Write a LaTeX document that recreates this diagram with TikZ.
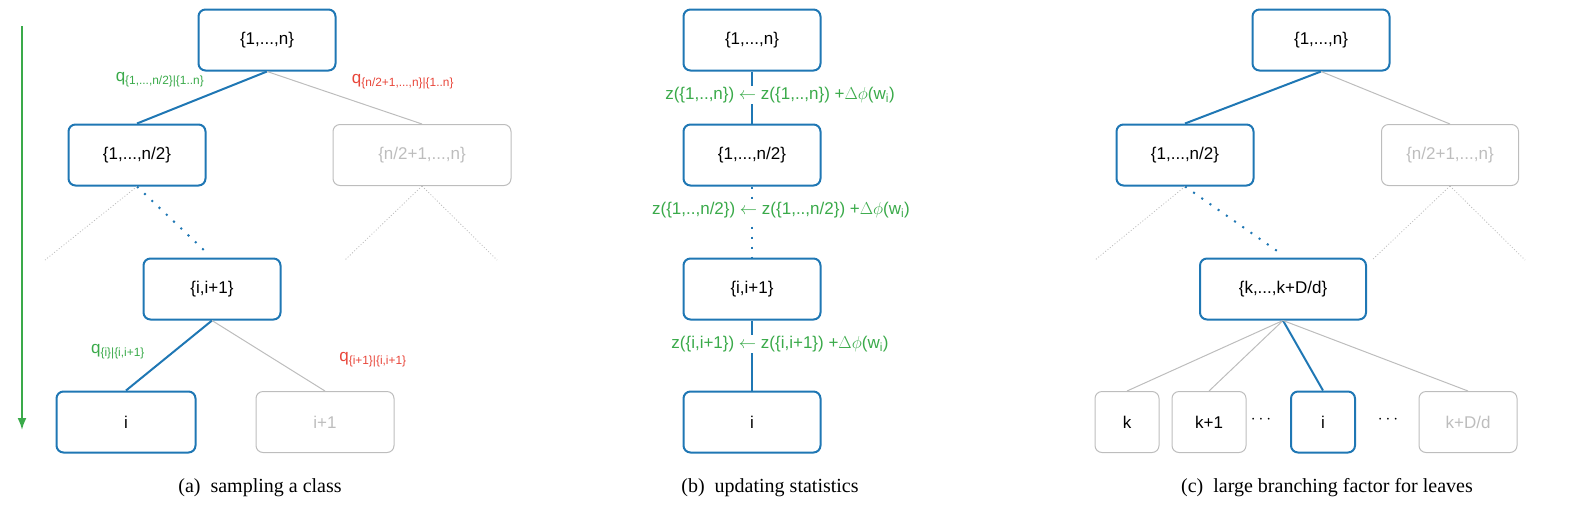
\documentclass[tikz,border=0pt]{standalone}
\usepackage{fontspec}
\usetikzlibrary{arrows.meta}
\setmainfont{Liberation Serif}
\newfontfamily\boxfont{Liberation Sans}
\begin{document}
\definecolor{bl}{HTML}{1F77B4}
\definecolor{gr}{HTML}{3AAA4A}
\definecolor{rd}{HTML}{E8463A}
\definecolor{gy}{HTML}{BDBDBD}
\begin{tikzpicture}[x=1pt,y=-1pt,
 bx/.style={draw=bl,line width=2pt,rounded corners=7pt,minimum width=137pt,minimum height=61pt,font=\boxfont\fontsize{17}{20}\selectfont,inner sep=0pt},
 gbx/.style={draw=gy,line width=1pt,rounded corners=7pt,minimum width=137pt,minimum height=61pt,font=\boxfont\fontsize{17}{20}\selectfont,text=gy,inner sep=0pt},
 be/.style={draw=bl,line width=2pt},
 ge/.style={draw=gy,line width=1pt},
 bdot/.style={draw=bl,line width=2pt,dotted,dash pattern=on 2pt off 8pt},
 gdot/.style={draw=gy,line width=0.8pt,dash pattern=on 1pt off 2pt},
 lab/.style={font=\boxfont\fontsize{17}{20}\selectfont,inner sep=0pt},
 captxt/.style={font=\fontsize{20}{24}\selectfont}]
\useasboundingbox (0,0) rectangle (1589,512);
% (a)
\node[bx] (a0) at (267,40) {\{1,...,n\}};
\node[bx] (a1) at (137,155) {\{1,...,n/2\}};
\node[gbx,minimum width=178pt] (a2) at (422,155) {\{n/2+1,...,n\}};
\node[bx] (a3) at (212,289) {\{i,i+1\}};
\node[bx,minimum width=139pt] (a4) at (126,422) {i};
\node[gbx,minimum width=138pt] (a5) at (325,422) {i+1};
\coordinate (ad1) at (45,260); \coordinate (ad2) at (207,253);
\coordinate (ad3) at (345,260); \coordinate (ad4) at (497,260);
\draw[be] (a0.south) -- (a1.north);
\draw[ge] (a0.south) -- (a2.north);
\draw[bdot] (a1.south) -- (ad2);
\draw[gdot] (a1.south) -- (ad1);
\draw[gdot] (a2.south) -- (ad3);
\draw[gdot] (a2.south) -- (ad4);
\draw[be] (a3.south) -- (a4.north);
\draw[ge] (a3.south) -- (a5.north);
\coordinate (ar1) at (22,26); \coordinate (ar2) at (22,430);
\draw[gr,line width=2pt,-{Latex[length=12pt,width=9pt]}] (ar1) -- (ar2);
\node[lab,text=gr] (l1) at (160,80) {q\textsubscript{\{1,...,n/2\}|\{1..n\}}};
\node[lab,text=rd] (l2) at (403,82) {q\textsubscript{\{n/2+1,...,n\}|\{1..n\}}};
\node[lab,text=gr] (l3) at (118,352) {q\textsubscript{\{i\}|\{i,i+1\}}};
\node[lab,text=rd] (l4) at (373,360) {q\textsubscript{\{i+1\}|\{i,i+1\}}};
% (b)
\node[bx] (b0) at (752,40) {\{1,...,n\}};
\node[bx] (b1) at (752,155) {\{1,...,n/2\}};
\node[bx] (b2) at (752,289) {\{i,i+1\}};
\node[bx] (b3) at (752,422) {i};
\draw[be] (b0) -- (b1);
\draw[bdot] (b1.south) -- (b2.north);
\draw[be] (b2) -- (b3);
\node[lab,text=gr,fill=white,inner sep=1pt] (bl1) at (780,95) {z(\{1,..,n\}) $\leftarrow$ z(\{1,..,n\}) +$\Delta\phi$(w\textsubscript{i})};
\node[lab,text=gr,fill=white,inner sep=1pt] (bl2) at (781,210) {z(\{1,..,n/2\}) $\leftarrow$ z(\{1,..,n/2\}) +$\Delta\phi$(w\textsubscript{i})};
\node[lab,text=gr,fill=white,inner sep=1pt] (bl3) at (780,344) {z(\{i,i+1\}) $\leftarrow$ z(\{i,i+1\}) +$\Delta\phi$(w\textsubscript{i})};
% (c)
\node[bx] (c0) at (1321,40) {\{1,...,n\}};
\node[bx] (c1) at (1185,155) {\{1,...,n/2\}};
\node[gbx] (c2) at (1450,155) {\{n/2+1,...,n\}};
\node[bx,minimum width=166pt] (c3) at (1283,289) {\{k,...,k+D/d\}};
\node[gbx,minimum width=64pt,text=black] (k1) at (1127,422) {k};
\node[gbx,minimum width=74pt,text=black] (k2) at (1209,422) {k+1};
\node[bx,minimum width=64pt] (k3) at (1323,422) {i};
\node[gbx,minimum width=98pt] (k4) at (1468,422) {k+D/d};
\node[lab] (dd1) at (1261,420) {$\cdots$};
\node[lab] (dd2) at (1388,420) {$\cdots$};
\coordinate (cd1) at (1095,260); \coordinate (cd2) at (1280,253);
\coordinate (cd3) at (1372,260); \coordinate (cd4) at (1525,260);
\draw[be] (c0.south) -- (c1.north);
\draw[ge] (c0.south) -- (c2.north);
\draw[bdot] (c1.south) -- (cd2);
\draw[gdot] (c1.south) -- (cd1);
\draw[gdot] (c2.south) -- (cd3);
\draw[gdot] (c2.south) -- (cd4);
\draw[ge] (c3.south) -- (k1.north);
\draw[ge] (c3.south) -- (k2.north);
\draw[be] (c3.south) -- (k3.north);
\draw[ge] (c3.south) -- (k4.north);
% captions
\node[captxt] (ca) at (260,488) {(a)\ \ sampling a class};
\node[captxt] (cb) at (770,488) {(b)\ \ updating statistics};
\node[captxt] (cc) at (1327,488) {(c)\ \ large branching factor for leaves};
\end{tikzpicture}
\end{document}
